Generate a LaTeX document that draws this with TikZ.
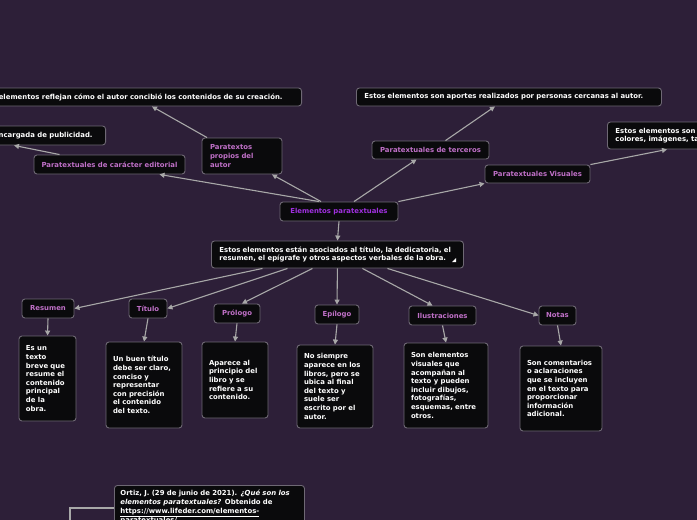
\documentclass[tikz,border=0pt]{standalone}
\usepackage{fontspec}
\setmainfont{DejaVu Sans}
\usetikzlibrary{arrows.meta}
\definecolor{bg}{HTML}{2D1F38}
\definecolor{boxfill}{HTML}{0A0A0C}
\definecolor{boxline}{HTML}{6E6874}
\definecolor{pinktxt}{HTML}{C070C8}
\definecolor{maintxt}{HTML}{A030E0}
\definecolor{edgec}{HTML}{A8A8A8}
\tikzset{
  bx/.style={draw=boxline, fill=boxfill, rounded corners=3pt, line width=0.9pt, text=white,
    font=\fontsize{6.9}{8.6}\selectfont\bfseries, inner xsep=7pt, inner ysep=0pt, align=left},
  pk/.style={text=pinktxt},
  cn/.style={draw=edgec, line width=1.1pt, -{Triangle[length=5pt,width=5pt]}},
  tb/.style 2 args={minimum width=#1pt, minimum height=#2pt},
}
\begin{document}
\begin{tikzpicture}[x=1pt,y=-1pt]
\fill[bg] (0,0) rectangle (697,520);
\useasboundingbox (0,0) rectangle (697,520);
\clip (0,0) rectangle (697,520);
% top level
\node[bx, tb={118}{19}, text=maintxt] (E) at (339,211.5) {Elementos paratextuales};
\node[bx, pk, tb={151}{19}] (C) at (109.5,164.5) {Paratextuales de carácter editorial};
\node[bx, pk, tb={80}{36}, text width=64pt] (D) at (242,156) {Paratextos\\propios del\\autor};
\node[bx, pk, tb={117}{18}] (F) at (430.5,150) {Paratextuales de terceros};
\node[bx, pk, tb={105}{18}] (H) at (537.5,174) {Paratextuales Visuales};
\node[bx, anchor=east, minimum height=18pt, inner xsep=19pt] (A) at (302,97) {Estos elementos reflejan cómo el autor concibió los contenidos de su creación.};
\node[bx, anchor=east, minimum height=19pt, inner xsep=13pt] (B) at (106,135.5) {Es la editorial encargada de publicidad.};
\node[bx, anchor=west, minimum height=18pt, inner xsep=8pt, text width=289pt] (G) at (356,97) {Estos elementos son aportes realizados por personas cercanas al autor.};
\node[bx, anchor=west, minimum height=27pt, inner xsep=8pt] (I) at (607,135.5) {Estos elementos son los tipos de letra,\\colores, imágenes, tablas, etc.};
\node[bx, anchor=west, minimum height=27pt, inner xsep=8pt, text width=236pt] (J) at (211,254.5) {Estos elementos están asociados al título, la dedicatoria, el\\resumen, el epígrafe y otros aspectos verbales de la obra.};
\fill[white] (452,262) -- (456,262) -- (456,258) -- cycle;
% children
\node[bx, pk, tb={52}{19}, align=center] (R) at (48,308.5) {Resumen};
\node[bx, pk, tb={38}{19}, align=center] (T) at (148,308.5) {Título};
\node[bx, pk, tb={46}{19}, align=center] (P) at (237,313.5) {Prólogo};
\node[bx, pk, tb={44}{19}, align=center] (Ep) at (337,314.5) {Epílogo};
\node[bx, pk, tb={67}{19}, align=center] (Il) at (442.5,315.5) {Ilustraciones};
\node[bx, pk, tb={37}{19}, align=center] (N) at (557.5,315.5) {Notas};
% descriptions
\node[bx, tb={57}{85}, text width=43pt] (Rd) at (47.5,378.5) {Es un\\texto\\breve que\\resume el\\contenido\\principal\\de la\\obra.};
\node[bx, tb={76}{86}, text width=62pt] (Td) at (144,385) {Un buen título\\debe ser claro,\\conciso y\\representar\\con precisión\\el contenido\\del texto.};
\node[bx, tb={66}{76}, text width=52pt] (Pd) at (235,380) {Aparece al\\principio del\\libro y se\\refiere a su\\contenido.};
\node[bx, tb={76}{83}, text width=62pt] (Epd) at (335,386.5) {No siempre\\aparece en los\\libros, pero se\\ubica al final\\del texto y\\suele ser\\escrito por el\\autor.};
\node[bx, tb={84}{85}, text width=70pt] (Ild) at (446,385.5) {Son elementos\\visuales que\\acompañan al\\texto y pueden\\incluir dibujos,\\fotografías,\\esquemas, entre\\otros.};
\node[bx, tb={82}{85}, text width=68pt] (Nd) at (561,388.5) {Son comentarios\\o aclaraciones\\que se incluyen\\en el texto para\\proporcionar\\información\\adicional.};
% reference
\node[bx, anchor=north west, text width=178pt, inner xsep=6pt, inner ysep=5pt] (Ref) at (114,485) {Ortiz, J. (29 de junio de 2021). \textit{¿Qué son los\\elementos paratextuales?} Obtenido de\\\underline{https://www.lifeder.com/elementos-}\\\underline{paratextuales/}};
\coordinate (c1) at (70,508);
\coordinate (c2) at (70,520);
\draw[edgec, line width=1.1pt] (Ref.west |- c1) -- (c1) -- (c2);
% connectors
\draw[cn] ([xshift=-20pt]E.north) -- ([xshift=50pt]C.south);
\draw[cn] ([xshift=-18pt]E.north) -- ([xshift=30pt]D.south);
\draw[cn] ([xshift=-35pt]D.north) -- ([xshift=-150pt]A.south east);
\draw[cn] ([xshift=-50pt]C.north) -- ([xshift=-92pt]B.south east);
\draw[cn] ([xshift=15pt]E.north) -- ([xshift=-14pt]F.south);
\draw[cn] ([xshift=15pt]F.north) -- ([xshift=-14pt]G.south);
\draw[cn] (E.north east) -- (H.south west);
\draw[cn] (H.north east) -- ([xshift=60pt]I.south west);
\draw[cn] (E.south) -- (J.north);
\draw[cn] ([xshift=-75pt]J.south) -- (R.east);
\draw[cn] ([xshift=-50pt]J.south) -- (T.east);
\draw[cn] ([xshift=-25pt]J.south) -- ([xshift=5pt]P.north);
\draw[cn] (J.south) -- (Ep.north);
\draw[cn] ([xshift=25pt]J.south) -- ([xshift=-10pt]Il.north);
\draw[cn] ([xshift=50pt]J.south) -- (N.west);
\foreach \a/\b in {R/Rd,T/Td,P/Pd,Ep/Epd,Il/Ild,N/Nd}
  \draw[cn] (\a.south) -- (\b.north);
\end{tikzpicture}
\end{document}
